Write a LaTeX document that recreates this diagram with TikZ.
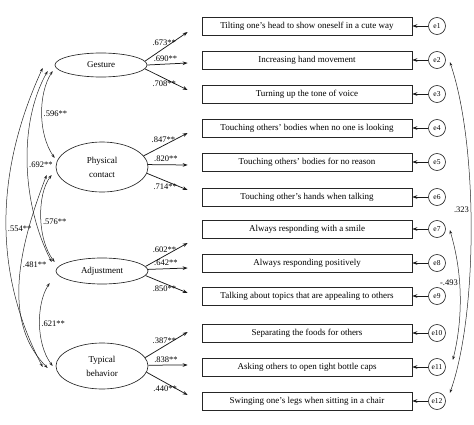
\documentclass[tikz,border=0pt]{standalone}
\usepackage{fontspec}
\setmainfont{Liberation Serif}
\usetikzlibrary{shapes.geometric,arrows.meta}

\begin{document}
\begin{tikzpicture}[x=1pt,y=1pt,
    item/.style={draw=black!85, line width=0.65pt, minimum width=210pt, minimum height=18pt,
      inner sep=0pt, font=\fontsize{9}{10}\selectfont},
    err/.style={draw=black!85, line width=0.65pt, circle, minimum size=17pt, inner sep=0pt,
      font=\fontsize{7.5}{8}\selectfont},
    factor/.style={draw=black!85, line width=0.65pt, ellipse, minimum width=92pt, inner sep=0pt,
      align=center, font=\fontsize{9}{14}\selectfont},
    load/.style={draw=black!90, line width=0.75pt, -{Stealth[length=5pt,width=3.6pt]}},
    cov/.style={draw=black!85, line width=0.5pt,
      {Stealth[length=4pt,width=2.8pt]}-{Stealth[length=4pt,width=2.8pt]}},
    coef/.style={font=\fontsize{8.5}{9}\selectfont, inner sep=1.5pt}]
  \useasboundingbox (0,0) rectangle (474,424);

  % items with their error terms
  \foreach \n/\y/\txt in {1/398/{Tilting one's head to show oneself in a cute way},
      2/364/{Increasing hand movement}, 3/330/{Turning up the tone of voice},
      4/296/{Touching others' bodies when no one is looking},
      5/262/{Touching others' bodies for no reason}, 6/227/{Touching other's hands when talking},
      7/195/{Always responding with a smile}, 8/161/{Always responding positively},
      9/128/{Talking about topics that are appealing to others},
      10/91/{Separating the foods for others}, 11/57/{Asking others to open tight bottle caps},
      12/23/{Swinging one's legs when sitting in a chair}} {
    \node[item] (b\n) at (307,\y) {\txt};
    \node[err] (e\n) at (437,\y) {e\n};
    \draw[load] (e\n) -- (b\n);
  }

  % latent factors
  \node[factor, minimum height=24pt] (ge) at (101,359) {Gesture};
  \node[factor, minimum height=50pt] (pc) at (102,257) {Physical\\contact};
  \node[factor, minimum height=26pt] (ad) at (102,153) {Adjustment};
  \node[factor, minimum height=46pt] (tb) at (102,58) {Typical\\behavior};

  % loadings
  \foreach \f/\ang/\n/\dy/\val/\p in {ge/5/1/-6/.673/above, ge/0/2/-3/.690/above, ge/-5/3/4/.708/below,
      pc/15/4/-5/.847/above, pc/3/5/-3/.820/above, pc/-8/6/7/.714/below,
      ad/6/7/-14/.602/above, ad/2/8/-5/.642/above, ad/-6/9/3/.850/below,
      tb/11/10/1/.387/above, tb/1/11/2/.838/above, tb/-8/12/6/.440/below}
    \draw[load] (\f.\ang) -- node[coef,pos=.45,\p=1pt] {\val**} ([shift={(-14,\dy)}]b\n.west);

  % factor covariances
  \draw[cov] ([shift={(-2,-6)}]ge.west) .. controls (38,330) and (38,290) .. ([shift={(-1,9)}]pc.west)
    node[coef,pos=.5,right] {.596**};
  \draw[cov] ([shift={(-7,-6)}]ge.west) .. controls (18,300) and (22,220) .. ([shift={(-4,9)}]ad.west)
    node[coef,pos=.5,right] {.692**};
  \draw[cov] ([shift={(-12,-3)}]ge.west) .. controls (-6,250) and (-6,150) .. ([shift={(-13,-1)}]tb.west)
    node[coef,pos=.52,right] {.554**};
  \draw[cov] ([shift={(-4,-8)}]pc.west) .. controls (37,230) and (37,185) .. ([shift={(-1,9)}]ad.west)
    node[coef,pos=.55,right] {.576**};
  \draw[cov] ([shift={(-9,-8)}]pc.west) .. controls (16,170) and (4,100) .. ([shift={(-8,-2)}]tb.west)
    node[coef,pos=.4,right] {.481**};
  \draw[cov] ([shift={(-6,-12)}]ad.west) .. controls (36,120) and (36,80) .. ([shift={(-3,0)}]tb.west)
    node[coef,pos=.5,right] {.621**};

  % error covariances
  \draw[cov] ([shift={(4,-2)}]e2.east) .. controls (478,280) and (478,110) .. ([shift={(4,8)}]e12.east)
    node[coef,pos=.45,left] {.323};
  \draw[cov] ([shift={(4,-1)}]e7.east) .. controls (463,150) and (463,105) .. ([shift={(7,7)}]e11.east)
    node[coef,pos=.4,left] {-.493};
\end{tikzpicture}
\end{document}
